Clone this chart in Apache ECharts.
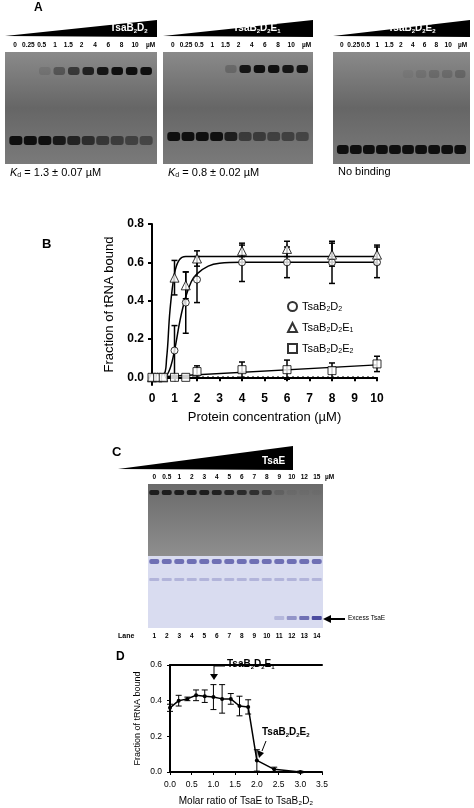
<!DOCTYPE html><html><head><meta charset="utf-8">
<script src="https://cdn.jsdelivr.net/npm/echarts@6/dist/echarts.min.js"></script>
<style>html,body{margin:0;background:#fff}#c{width:474px;height:808px}</style></head><body><div id="c"></div>
<script>
// Panel B data
const concB=[0,0.25,0.5,1,1.5,2,4,6,8,10];
const d2Y=[0,0,0,0.14,0.39,0.51,0.60,0.60,0.60,0.60];
const d2Err=[0.01,0.01,0.01,0.13,0.16,0.12,0.10,0.08,0.11,0.08];
const e1Y=[0,0,0,0.52,0.48,0.62,0.66,0.67,0.64,0.64];
const e1Err=[0.01,0.01,0.01,0.09,0.07,0.04,0.03,0.04,0.06,0.05];
const e2Y=[0,0,0,0,0,0.03,0.04,0.04,0.035,0.07];
const e2Err=[0.005,0.005,0.005,0.005,0.005,0.03,0.04,0.05,0.04,0.04];
const d2FitX=[0,0.5,0.75,1,1.25,1.5,1.75,2,2.5,3,4,10];
const d2FitY=[0,0,0.03,0.14,0.3,0.42,0.5,0.54,0.58,0.595,0.6,0.6];
const e1FitX=[0,0.5,0.65,0.8,1,1.2,1.5,2,10];
const e1FitY=[0,0.01,0.1,0.35,0.54,0.61,0.63,0.63,0.63];
const e2FitX=[0,10];
const e2FitY=[0,0.065];
// Panel D data
const ratioD=[0,0.2,0.4,0.6,0.8,1.0,1.2,1.4,1.6,1.8,2.0,2.4,3.0];
const fracD=[0.36,0.40,0.41,0.43,0.425,0.42,0.41,0.41,0.37,0.365,0.065,0.015,0.0];
const errD=[0.02,0.03,0.01,0.03,0.035,0.07,0.08,0.03,0.055,0.04,0.06,0.012,0.005];
// Gel labels
const concA=['0','0.25','0.5','1','1.5','2','4','6','8','10'];
const concC=['0','0.5','1','2','3','4','5','6','7','8','9','10','12','15'];
// band intensities (0..1)
const boundA1=[0,0,0.1,0.35,0.6,0.8,0.9,0.95,0.95,0.95];
const freeA1=[1,1,1,0.9,0.8,0.7,0.6,0.55,0.5,0.45];
const boundA2=[0,0,0,0,0.2,0.9,0.95,0.95,0.9,0.9];
const freeA2=[1,1,1,1,0.85,0.55,0.55,0.5,0.5,0.45];
const boundA3=[0,0,0,0,0,0.05,0.1,0.15,0.15,0.2];
const freeA3=[1,1,1,1,1,1,1,1,1,1];
const boundC=[0.9,0.9,0.9,0.9,0.9,0.85,0.8,0.75,0.7,0.5,0.15,0.05,0.03,0.02];

const g=[];
function T(x,y,t,size,weight,fill,align,extra){
  const sub={fontSize:Math.round(size*0.62),fontWeight:weight,fill:fill,fontFamily:'Arial',padding:[Math.round(size*0.5),0,0,0]};
  g.push({type:'text',x,y,z:10,style:Object.assign({text:t,fill:fill||'#000',fontSize:size,fontWeight:weight||'normal',fontFamily:'Arial',align:align||'left',
   rich:{s:sub,i:{fontSize:size,fontStyle:'italic',fill:fill,fontFamily:'Arial'}}},extra||{})});}
function rect(x,y,w,h,fill){g.push({type:'rect',shape:{x,y,width:w,height:h},style:{fill}});}
function wedge(x1,x2,y1,y2){g.push({type:'polygon',shape:{points:[[x1,y2-1],[x2,y1],[x2,y2]]},style:{fill:'#000'}});}
function gel(x,y,w,h,n,bound,free,bandY1,bandY2){
  g.push({type:'rect',shape:{x,y,width:w,height:h},style:{fill:new echarts.graphic.LinearGradient(0,0,0,1,[{offset:0,color:'#8a8a8a'},{offset:0.5,color:'#666'},{offset:1,color:'#7a7a7a'}])}});
  const lw=w/(n+0.5);
  for(let i=0;i<n;i++){const cx=x+lw*(i+0.75);
    if(bound[i]>0) g.push({type:'rect',shape:{x:cx-lw*0.4,y:bandY1,width:lw*0.8,height:8,r:3},style:{fill:'rgba(10,10,10,'+bound[i]+')'}});
    g.push({type:'rect',shape:{x:cx-lw*0.45,y:bandY2,width:lw*0.9,height:9,r:3},style:{fill:'rgba(15,15,15,'+free[i]+')'}});
  }
}
function lanesRow(x,w,labels,y){const n=labels.length,lw=w/(n+0.5);labels.forEach((l,i)=>T(x+lw*(i+0.75),y,l,6.5,'bold','#000','center'));T(x+w+1,y,'µM',6.5,'bold','#000','left');}
// Panel A
T(34,2,'A',12,'bold','#000');
wedge(5,157,20,37);wedge(163,313,20,37);wedge(333,470,20,37);
T(110,23,'TsaB{s|2}D{s|2}',10,'bold','#fff');
T(233,23,'TsaB{s|2}D{s|2}E{s|1}',10,'bold','#fff');
T(388,23,'TsaB{s|2}D{s|2}E{s|2}',10,'bold','#fff');
gel(5,52,152,112,10,boundA1,freeA1,67,136);
gel(163,52,150,112,10,boundA2,freeA2,65,132);
gel(333,52,137,112,10,boundA3,freeA3,70,145);
lanesRow(5,140,concA,42);lanesRow(163,138,concA,42);lanesRow(333,124,concA,42);
T(10,166,'{i|K}{s|d} = 1.3 ± 0.07 µM',11,'normal','#000');
T(168,166,'{i|K}{s|d} = 0.8 ± 0.02 µM',11,'normal','#000');
T(338,166,'No binding',11,'normal','#000');
// Panel B label
T(42,238,'B',13,'bold','#000');
// Panel C
T(112,446,'C',13,'bold','#000');
wedge(118,293,446,470);T(262,456,'TsaE',10,'bold','#fff');
g.push({type:'rect',shape:{x:148,y:484,width:175,height:72},style:{fill:new echarts.graphic.LinearGradient(0,0,0,1,[{offset:0,color:'#6a6a6a'},{offset:1,color:'#8e8e8e'}])}});
rect(148,556,175,72,'#d9dcf0');
(function(){const n=concC.length,lw=175/n;concC.forEach((l,i)=>{const cx=148+lw*(i+0.5);T(cx,474,l,6.5,'bold','#000','center');
 g.push({type:'rect',shape:{x:cx-lw*0.4,y:490,width:lw*0.8,height:5,r:2},style:{fill:'rgba(20,20,20,'+boundC[i]+')'}});
 g.push({type:'rect',shape:{x:cx-lw*0.4,y:559,width:lw*0.8,height:5,r:2},style:{fill:'rgba(40,40,140,0.6)'}});
 g.push({type:'rect',shape:{x:cx-lw*0.4,y:578,width:lw*0.8,height:3,r:1},style:{fill:'rgba(90,90,170,0.3)'}});
 T(cx,633,String(i+1),6.5,'bold','#000','center');
 if(i>=10) g.push({type:'rect',shape:{x:cx-lw*0.4,y:616,width:lw*0.8,height:4,r:1},style:{fill:'rgba(40,40,140,'+(0.2+0.2*(i-10))+')'}});
});T(325,474,'µM',6.5,'bold','#000');})();
T(118,633,'Lane',7,'bold','#000');
g.push({type:'line',shape:{x1:345,y1:619,x2:326,y2:619},style:{stroke:'#000',lineWidth:2}});
g.push({type:'polygon',shape:{points:[[323,619],[331,615],[331,623]]},style:{fill:'#000'}});
T(348,615,'Excess TsaE',6.5,'normal','#000');
// Panel D
T(116,651,'D',12,'bold','#000');
T(227,659,'TsaB{s|2}D{s|2}E{s|1}',10,'bold','#000');
g.push({type:'line',shape:{x1:225,y1:666,x2:214,y2:666},style:{stroke:'#000',lineWidth:1}});
g.push({type:'line',shape:{x1:214,y1:666,x2:214,y2:676},style:{stroke:'#000',lineWidth:1}});
g.push({type:'polygon',shape:{points:[[210,674],[218,674],[214,680]]},style:{fill:'#000'}});
T(262,727,'TsaB{s|2}D{s|2}E{s|2}',10,'bold','#000');
g.push({type:'line',shape:{x1:266,y1:741,x2:262,y2:751},style:{stroke:'#000',lineWidth:1}});
g.push({type:'polygon',shape:{points:[[257,750],[264,753],[259,758]]},style:{fill:'#000'}});

function errSeries(xa,ya,ea,xi,yi,cap,lw){return {type:'custom',xAxisIndex:xi,yAxisIndex:yi,z:3,silent:true,
 data:xa.map((x,i)=>[x,ya[i]-ea[i],ya[i]+ea[i]]),
 renderItem:(p,api)=>{const lo=api.coord([api.value(0),api.value(1)]),hi=api.coord([api.value(0),api.value(2)]);
  return {type:'group',children:[
   {type:'line',shape:{x1:lo[0],y1:lo[1],x2:hi[0],y2:hi[1]},style:{stroke:'#000',lineWidth:lw}},
   {type:'line',shape:{x1:lo[0]-cap,y1:lo[1],x2:lo[0]+cap,y2:lo[1]},style:{stroke:'#000',lineWidth:lw}},
   {type:'line',shape:{x1:hi[0]-cap,y1:hi[1],x2:hi[0]+cap,y2:hi[1]},style:{stroke:'#000',lineWidth:lw}}]};}};}
const zip=(a,b)=>a.map((x,i)=>[x,b[i]]);
const tri='path://M0,10L5,0L10,10Z';
const axB={axisLine:{lineStyle:{color:'#000',width:2}},splitLine:{show:false}};
const chart=echarts.init(document.getElementById('c'));
chart.setOption({animation:false,graphic:g,textStyle:{fontFamily:'Arial'},
 grid:[{left:152,top:224,width:225,height:161},{left:170,top:665,width:152,height:107}],
 xAxis:[Object.assign({gridIndex:0,type:'value',min:0,max:10,interval:1,name:'Protein concentration (µM)',nameLocation:'middle',nameGap:26,nameTextStyle:{fontSize:13,color:'#000'},axisTick:{lineStyle:{color:'#000',width:2},length:4},axisLabel:{color:'#000',fontWeight:'bold',fontSize:12}},axB),
  {gridIndex:1,type:'value',min:0,max:3.5,interval:0.5,name:'Molar ratio of TsaE to TsaB₂D₂',nameLocation:'middle',nameGap:24,nameTextStyle:{fontSize:10,color:'#000'},axisLabel:{color:'#000',fontSize:8.5,formatter:v=>v.toFixed(1)},axisLine:{lineStyle:{color:'#000',width:2}},axisTick:{lineStyle:{color:'#000'},length:3},splitLine:{show:false}},
  {gridIndex:1,type:'value',position:'top',min:0,max:3.5,axisLine:{lineStyle:{color:'#000',width:2}},axisTick:{show:false},axisLabel:{show:false},splitLine:{show:false}}],
 yAxis:[Object.assign({gridIndex:0,type:'value',min:-0.04,max:0.8,name:'Fraction of tRNA bound',nameLocation:'middle',nameGap:36,nameTextStyle:{fontSize:13,color:'#000'},axisTick:{customValues:[0,0.2,0.4,0.6,0.8],lineStyle:{color:'#000',width:2},length:4},axisLabel:{customValues:[0,0.2,0.4,0.6,0.8],color:'#000',fontWeight:'bold',fontSize:12,formatter:v=>v.toFixed(1)}},axB),
  {gridIndex:1,type:'value',min:0,max:0.6,interval:0.2,name:'Fraction of tRNA bound',nameLocation:'middle',nameGap:28,nameTextStyle:{fontSize:9,color:'#000'},axisLabel:{color:'#000',fontSize:8.5,formatter:v=>v.toFixed(1)},axisLine:{show:true,lineStyle:{color:'#000',width:2}},axisTick:{show:true,lineStyle:{color:'#000'},length:3},splitLine:{show:false}}],
 legend:{left:282,top:296,orient:'vertical',itemGap:9,itemWidth:9,itemHeight:9,textStyle:{fontSize:11,color:'#000',rich:{s:{fontSize:7,padding:[6,0,0,0]}}},
  data:[{name:'d2',icon:'circle'},{name:'e1',icon:tri},{name:'e2',icon:'rect'}],formatter:n=>({d2:'TsaB{s|2}D{s|2}',e1:'TsaB{s|2}D{s|2}E{s|1}',e2:'TsaB{s|2}D{s|2}E{s|2}'})[n]},
 series:[
  {type:'line',xAxisIndex:0,yAxisIndex:0,data:[[0,0],[10,0]],symbol:'none',lineStyle:{color:'#000',type:[2,3],width:1.5},silent:true},
  {type:'line',data:zip(d2FitX,d2FitY),smooth:0.4,symbol:'none',lineStyle:{color:'#000',width:1.5}},
  {type:'line',data:zip(e1FitX,e1FitY),smooth:0.4,symbol:'none',lineStyle:{color:'#000',width:1.5}},
  {type:'line',data:zip(e2FitX,e2FitY),symbol:'none',lineStyle:{color:'#000',width:1.5}},
  errSeries(concB,d2Y,d2Err,0,0,3,1.5),errSeries(concB,e1Y,e1Err,0,0,3,1.5),errSeries(concB,e2Y,e2Err,0,0,3,1.5),
  {name:'d2',type:'scatter',data:zip(concB,d2Y),symbol:'circle',symbolSize:7,itemStyle:{color:'#fff',borderColor:'#000',borderWidth:1},z:5},
  {name:'e1',type:'scatter',data:zip(concB,e1Y),symbol:tri,symbolSize:9,itemStyle:{color:'#fff',borderColor:'#000',borderWidth:1},z:5},
  {name:'e2',type:'scatter',data:zip(concB,e2Y),symbol:'rect',symbolSize:8,itemStyle:{color:'#fff',borderColor:'#000',borderWidth:1},z:5},
  {type:'line',xAxisIndex:1,yAxisIndex:1,data:zip(ratioD,fracD),symbol:'circle',symbolSize:4,itemStyle:{color:'#000'},lineStyle:{color:'#000',width:1.5}},
  errSeries(ratioD,fracD,errD,1,1,3,1)
 ]});
</script></body></html>
